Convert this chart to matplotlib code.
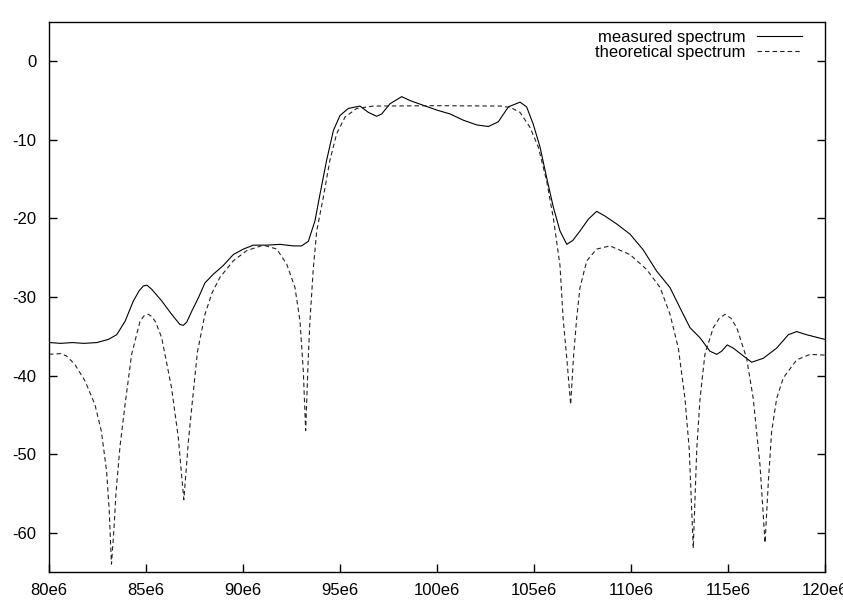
"""
Measured vs theoretical filter spectrum (gnuplot-style line chart).
"""

import matplotlib
matplotlib.use("Agg")
import matplotlib.pyplot as plt

# frequency in MHz, level in dB
theo_f = [80.0, 80.6, 80.9, 81.34, 81.86, 82.37, 82.7, 82.97, 83.1, 83.22, 83.35,
          83.45, 83.66, 83.92, 84.26, 84.69, 84.9, 85.12, 85.3, 85.5, 85.81,
          86.32, 86.67, 86.85, 86.95, 87.07, 87.18, 87.36, 87.65, 88.04, 88.4,
          88.81, 89.5, 90.19, 91.05, 91.74, 92.25, 92.68, 92.94, 93.11, 93.23,
          93.36, 93.45, 93.62, 93.8, 94.14, 94.48, 94.83, 95.26, 95.86, 96.72,
          100.0, 103.3, 103.8, 104.28, 104.79, 105.22, 105.65, 106.0, 106.34,
          106.5, 106.69, 106.89, 107.03, 107.2, 107.37, 107.72, 108.23, 108.92,
          109.95, 110.81, 111.5, 112.01, 112.44, 112.78, 113.0, 113.21, 113.39,
          113.56, 113.81, 114.24, 114.55, 114.85, 115.15, 115.45, 115.96, 116.3,
          116.65, 116.91, 117.08, 117.25, 117.51, 117.85, 118.54, 119.23, 120.0]
theo_db = [-37.3, -37.2, -37.5, -38.6, -40.7, -43.7, -47.1, -52.2, -57.0, -64.0,
           -59.5, -55.0, -49.0, -43.7, -37.3, -33.1, -32.4, -32.2, -32.5, -33.2,
           -35.2, -41.6, -48.0, -53.1, -55.8, -52.0, -48.5, -44.0, -37.0, -32.2,
           -29.5, -27.5, -25.4, -24.1, -23.4, -23.9, -25.8, -28.8, -33.1, -39.5,
           -47.0, -38.0, -33.1, -26.5, -21.6, -17.3, -12.6, -9.2, -7.1, -6.0,
           -5.7, -5.65, -5.7, -5.9, -6.5, -8.4, -10.9, -15.2, -20.0, -26.0,
           -32.7, -37.8, -43.7, -37.8, -32.7, -28.8, -25.4, -23.9, -23.5,
           -24.6, -26.5, -28.8, -32.2, -36.5, -42.9, -49.3, -62.0, -49.3,
           -42.9, -37.3, -33.9, -32.7, -32.2, -32.7, -33.9, -37.8, -42.9,
           -51.4, -61.3, -53.5, -47.1, -42.9, -40.3, -38.0, -37.3, -37.4]

meas_f = [80.05, 80.6, 81.2, 81.8, 82.46, 83.06, 83.49, 83.92, 84.35, 84.65,
          84.86, 85.05, 85.29, 85.81, 86.32, 86.75, 86.93, 87.1, 87.36, 87.7,
          88.04, 88.47, 88.98, 89.5, 90.02, 90.53, 91.22, 91.91, 92.59, 93.02,
          93.37, 93.71, 93.97, 94.31, 94.66, 95.0, 95.43, 96.03, 96.46, 96.89,
          97.15, 97.58, 98.18, 98.61, 99.29, 99.98, 100.67, 101.36, 102.05,
          102.65, 103.16, 103.68, 104.28, 104.62, 104.96, 105.31, 105.65, 106.0,
          106.34, 106.69, 107.0, 107.37, 107.8, 108.23, 108.66, 109.26, 109.95,
          110.63, 111.32, 112.01, 112.53, 113.04, 113.56, 114.07, 114.42, 114.67,
          114.96, 115.27, 115.79, 116.22, 116.82, 117.51, 118.11, 118.54, 119.05,
          120.0]
meas_db = [-35.8, -35.9, -35.8, -35.9, -35.8, -35.4, -34.8, -33.1, -30.5, -29.2,
           -28.6, -28.5, -29.0, -30.5, -32.2, -33.5, -33.6, -33.2, -31.8, -30.1,
           -28.2, -27.1, -26.0, -24.6, -23.9, -23.4, -23.4, -23.3, -23.5, -23.5,
           -22.9, -20.3, -16.9, -12.6, -8.8, -6.9, -6.0, -5.7, -6.5, -7.0,
           -6.7, -5.4, -4.5, -5.0, -5.6, -6.2, -6.7, -7.5, -8.1,
           -8.3, -7.7, -5.8, -5.2, -5.8, -8.0, -10.9, -14.8, -18.6,
           -21.6, -23.3, -22.8, -21.6, -20.1, -19.1, -19.7, -20.7, -22.0,
           -24.0, -26.7, -28.8, -31.4, -33.9, -35.2, -36.9, -37.3, -36.9,
           -36.1, -36.5, -37.5, -38.3, -37.8, -36.5, -34.8, -34.4, -34.8,
           -35.4]

x_ticks = [80, 85, 90, 95, 100, 105, 110, 115, 120]
y_ticks = [0, -10, -20, -30, -40, -50, -60]

plt.rcParams["font.family"] = ["Liberation Sans", "DejaVu Sans"]

fig = plt.figure(figsize=(8.43, 6.12), dpi=100)
ax = fig.add_axes([49 / 843, 40 / 612, 776 / 843, 550 / 612])

ax.plot([f * 1e6 for f in meas_f], meas_db, color="black", lw=0.8,
        label="measured spectrum")
ax.plot([f * 1e6 for f in theo_f], theo_db, color="#222222", lw=0.8,
        linestyle=(0, (4, 2.8)), label="theoretical spectrum")

ax.set_xlim(80e6, 120e6)
ax.set_ylim(-65, 5)
ax.set_xticks([t * 1e6 for t in x_ticks])
ax.set_xticklabels([f"{t}e6" for t in x_ticks])
ax.set_yticks(y_ticks)
ax.set_yticklabels([str(t) for t in y_ticks])

ax.tick_params(axis="both", direction="in", length=6, width=1,
               labelsize=12, colors="black")
ax.tick_params(axis="x", pad=8)
ax.tick_params(axis="y", pad=9, right=True)
for s in ax.spines.values():
    s.set_linewidth(1.0)

ax.legend(loc="upper right", bbox_to_anchor=(0.970, 0.985), frameon=False,
          markerfirst=False, handlelength=2.7, handletextpad=0.65,
          labelspacing=0.0, borderpad=0, borderaxespad=0, fontsize=12)

fig.savefig("out.png", dpi=100)
